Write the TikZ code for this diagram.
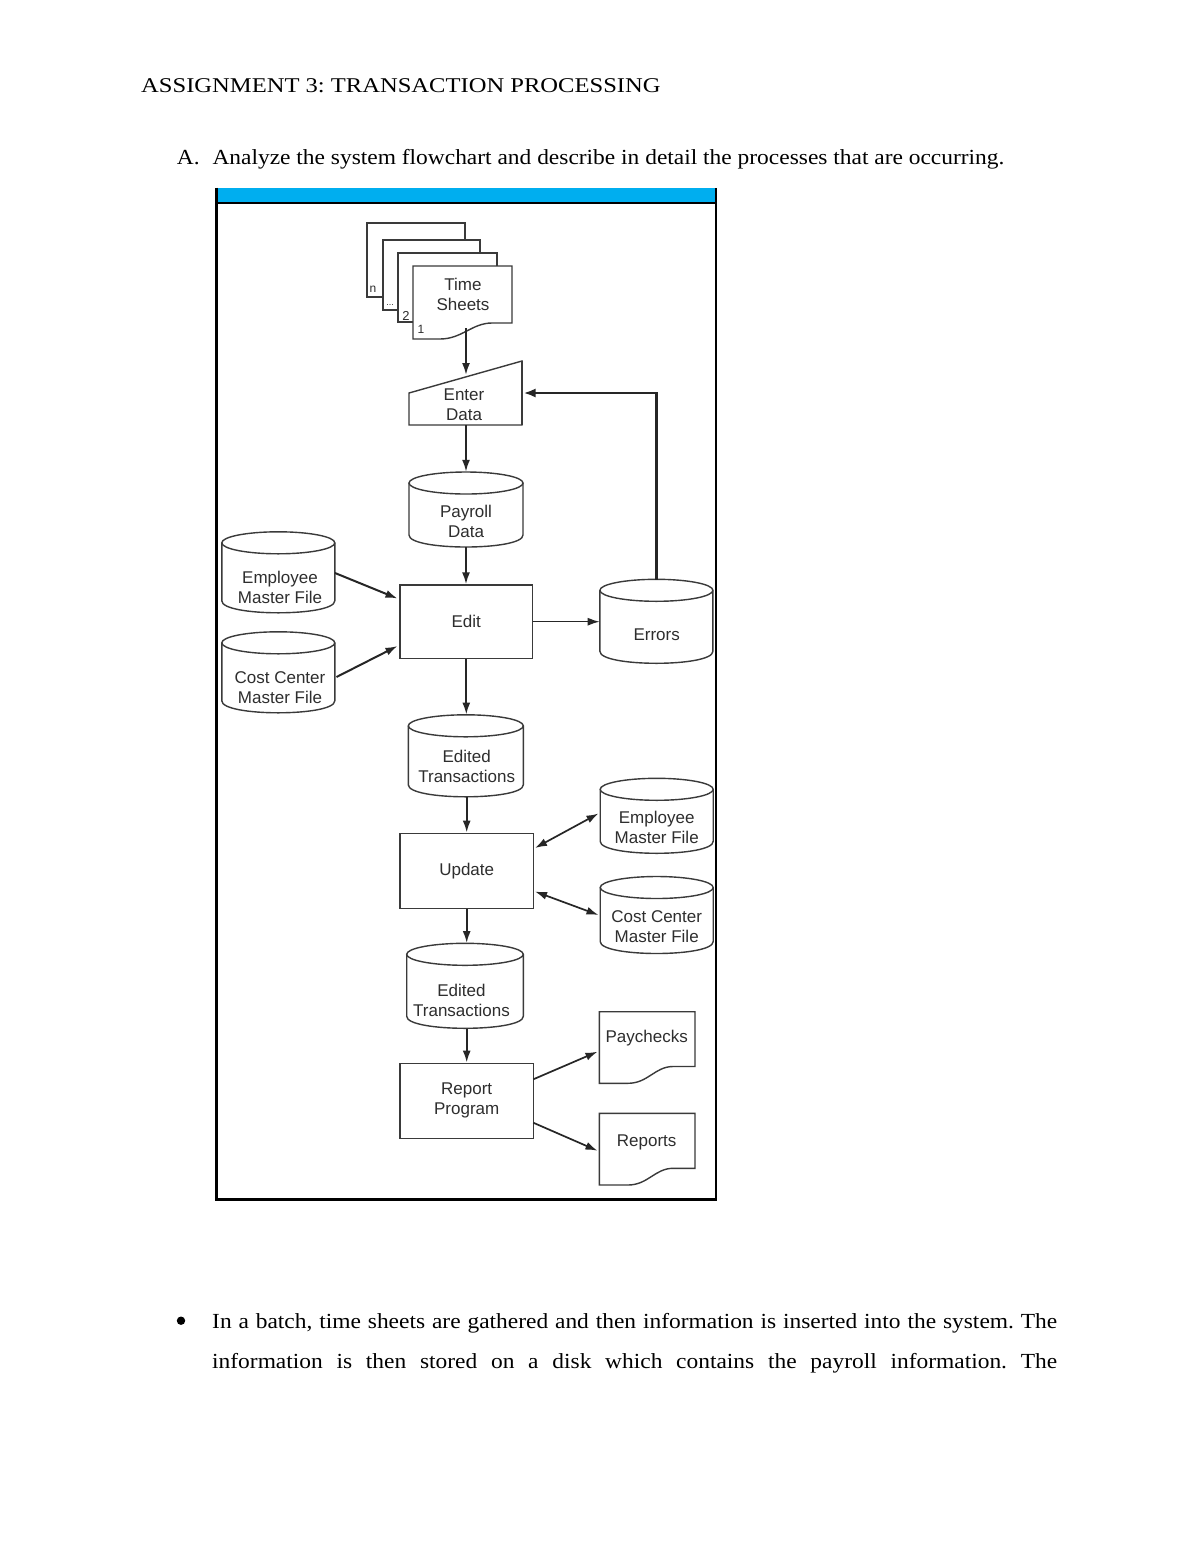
\documentclass[tikz,border=0pt]{standalone}
\usepackage{fontspec}
\setmainfont{Liberation Serif}
\newfontfamily\hdrfont[FakeStretch=1.17]{Liberation Serif}
\newfontfamily\bodyfont[FakeStretch=1.09]{Liberation Serif}
\newfontfamily\diagfont{Liberation Sans}
\usetikzlibrary{arrows.meta}
\definecolor{band}{HTML}{00AEEF}
\definecolor{ink}{HTML}{2E2E2E}
\definecolor{edge}{HTML}{3A3A3A}
\frenchspacing
\tikzset{
  lbl/.style={font=\diagfont\fontsize{17}{20}\selectfont, text=ink, align=center, inner sep=0pt},
  small/.style={font=\diagfont\fontsize{12}{14}\selectfont, text=ink, inner sep=0pt},
  shapeline/.style={draw=edge, line width=1.4pt},
  bbox/.style={draw=none, inner sep=0pt},
  flow/.style={draw=black!85, line width=2pt, -{Latex[length=12pt,width=8pt]}},
  biflow/.style={draw=black!85, line width=1.7pt, {Latex[length=12pt,width=8pt]}-{Latex[length=12pt,width=8pt]}},
  bodytext/.style={anchor=base west, inner sep=0pt, font=\bodyfont\fontsize{21.5}{26}\selectfont},
}
% cylinder: name, cx, cy, w, h
\newcommand\mycyl[5]{%
  \node[bbox, minimum width=#4, minimum height=#5] (#1) at (#2,#3) {};
  \draw[shapeline] ({#2-#4/2},{#3-#5/2+11}) -- ({#2-#4/2},{#3+#5/2-12})
    .. controls ({#2-#4/2},{#3+#5/2+4}) and ({#2+#4/2},{#3+#5/2+4}) .. ({#2+#4/2},{#3+#5/2-12})
    -- ({#2+#4/2},{#3-#5/2+11});
  \draw[shapeline] (#2,{#3-#5/2+11}) ellipse [x radius={#4/2}, y radius=11];
}
% document: name, x0, y0 (top), x1, yr (right bottom), yl (left bottom)
\newcommand\mydoc[6]{%
  \node[bbox, minimum width={#4-#2}, minimum height={#6-#3}] (#1) at ({(#2+#4)/2},{(#3+#6)/2}) {};
  \draw[shapeline, fill=white] (#2,#3) -- (#4,#3) -- (#4,#5) -- ({#4-22},#5)
    .. controls ({#4-40},#5) and ({#4-47},#6) .. ({#4-67},#6) -- (#2,#6) -- cycle;
}
\begin{document}
\begin{tikzpicture}[x=1pt,y=-1pt]
\useasboundingbox (0,0) rectangle (1200,1553);
\fill[white] (0,0) rectangle (1200,1553);

% ---------- page text ----------
\node[anchor=base west, inner sep=0pt, font=\hdrfont\fontsize{21}{25}\selectfont] (title) at (141,92.3) {ASSIGNMENT 3: TRANSACTION PROCESSING};
\node[bodytext] (qa) at (176.7,164.3) {A.};
\node[bodytext] (qtext) at (212.3,164.3) {Analyze the system flowchart and describe in detail the processes that are occurring.};
\fill (181,1320.7) circle[radius=4.2pt];
\node[bodytext] (line1) at (212,1328.3) {\makebox[845pt][s]{In a batch, time sheets are gathered and then information is inserted into the system. The}};
\node[bodytext] (line2) at (212,1368.3) {\makebox[845pt][s]{information is then stored on a disk which contains the payroll information. The}};

% ---------- frame ----------
\fill[band] (216,188) rectangle (716,202);
\draw[line width=2.4pt] (216,203) -- (716,203);
\draw[line width=2.4pt] (216.5,187.5) -- (216.5,1199.5) -- (716,1199.5) -- (716,187.5);

% ---------- time sheets ----------
\draw[shapeline, fill=white] (367,223) rectangle (465,297);
\draw[shapeline, fill=white] (383,240) rectangle (480,310);
\draw[shapeline, fill=white] (398,253) rectangle (497,322);
\draw[shapeline, fill=white] (413,266) -- (512,266) -- (512,323) -- (492,323)
  .. controls (472,323) and (462,339) .. (440,339) -- (413,339) -- cycle;
\node[bbox, minimum width=99, minimum height=73] (ts) at (462.5,302.5) {};
\node[lbl] (ts-t) at (463,294.5) {Time\\Sheets};
\node[small] (lab-n) at (373,289) {n};
\node[small, font=\diagfont\fontsize{9}{10}\selectfont] (lab-dots) at (390,305) {...};
\node[small, font=\diagfont\fontsize{13}{14}\selectfont] (lab-2) at (406,316) {2};
\node[small] (lab-1) at (421,329) {1};

% ---------- enter data ----------
\draw[shapeline, fill=white] (409,393) -- (522,361) -- (522,425) -- (409,425) -- cycle;
\draw[edge, line width=2.6pt] (522,361) -- (522,425);
\node[bbox, minimum width=113, minimum height=64] (enter) at (465.5,393) {};
\node[lbl] (enter-t) at (464,405) {Enter\\Data};

% ---------- cylinders ----------
\mycyl{payroll}{466}{509.5}{114}{75}
\node[lbl] (payroll-t) at (466,521.7) {Payroll\\Data};
\mycyl{emfL}{278.3}{572.3}{113}{81}
\node[lbl] (emfL-t) at (280,587) {Employee\\Master File};
\mycyl{ccL}{278.3}{672.3}{113}{81}
\node[lbl] (ccL-t) at (280,687.5) {Cost Center\\Master File};
\mycyl{errors}{656.4}{621.3}{113}{84}
\node[lbl] (errors-t) at (656.7,635) {Errors};
\mycyl{et1}{465.8}{755.8}{115}{82}
\node[lbl] (et1-t) at (466.7,766.7) {Edited\\Transactions};
\mycyl{emfR}{656.7}{815.8}{113}{75}
\node[lbl] (emfR-t) at (656.7,827.5) {Employee\\Master File};
\mycyl{ccR}{656.7}{915}{113}{77}
\node[lbl] (ccR-t) at (656.7,927) {Cost Center\\Master File};
\mycyl{et2}{465}{985.8}{116.6}{85}
\node[lbl] (et2-t) at (461.5,1000) {Edited\\Transactions};

% ---------- process boxes ----------
\node[lbl, shapeline, minimum width=132.7, minimum height=73.3] (edit) at (466.3,621.7) {Edit};
\node[lbl, shapeline, minimum width=133.3, minimum height=75] (update) at (466.7,870.8) {Update};
\node[lbl, shapeline, minimum width=133.3, minimum height=75] (report) at (466.7,1100.8) {Report\\Program};

% ---------- documents ----------
\mydoc{paychecks}{599.3}{1011.7}{695}{1066.5}{1083.3}
\node[lbl] (paychecks-t) at (646.7,1038.3) {Paychecks};
\mydoc{reports}{599.3}{1113.3}{695}{1168.3}{1185}
\node[lbl] (reports-t) at (646.7,1142.7) {Reports};

% ---------- connector end points ----------
\coordinate (tsOut) at (466,328);
\coordinate (enterIn) at (466,375);
\coordinate (enterOut) at (466,425);
\coordinate (emfLout) at (335,573);
\coordinate (editInA) at (397.5,598.5);
\coordinate (ccLout) at (336.5,677);
\coordinate (editInB) at (397.5,646);
\coordinate (errTop) at (656.7,579.5);
\coordinate (enterRight) at (523.5,393);
\coordinate (updA) at (535,848);
\coordinate (emfRin) at (598.5,813.5);
\coordinate (updB) at (535,891.5);
\coordinate (ccRin) at (598.5,915);
\coordinate (repA) at (533.3,1079.3);
\coordinate (payIn) at (597.5,1051.7);
\coordinate (repB) at (533.3,1122.7);
\coordinate (repIn) at (597.5,1150.7);

% ---------- connectors ----------
\draw[flow] (tsOut) -- (enterIn);
\draw[flow] (enterOut) -- (payroll.north -| enterOut);
\draw[flow] (payroll.south) -- (payroll.south |- edit.north);
\draw[flow] (emfLout) -- (editInA);
\draw[flow] (ccLout) -- (editInB);
\draw[flow, line width=1.5pt] (edit.east) -- (edit.east -| errors.west);
\draw[flow, line width=2.8pt, -{Latex[length=12pt,width=9pt]}] (errTop) |- (enterRight);
\draw[flow] (edit.south) -- (edit.south |- et1.north);
\draw[flow] (update.north |- et1.south) -- (update.north);
\draw[biflow] (updA) -- (emfRin);
\draw[biflow] (updB) -- (ccRin);
\draw[flow] (update.south) -- (update.south |- et2.north);
\draw[flow] (report.north |- et2.south) -- (report.north);
\draw[flow, line width=1.7pt] (repA) -- (payIn);
\draw[flow, line width=1.7pt] (repB) -- (repIn);
\end{tikzpicture}
\end{document}
